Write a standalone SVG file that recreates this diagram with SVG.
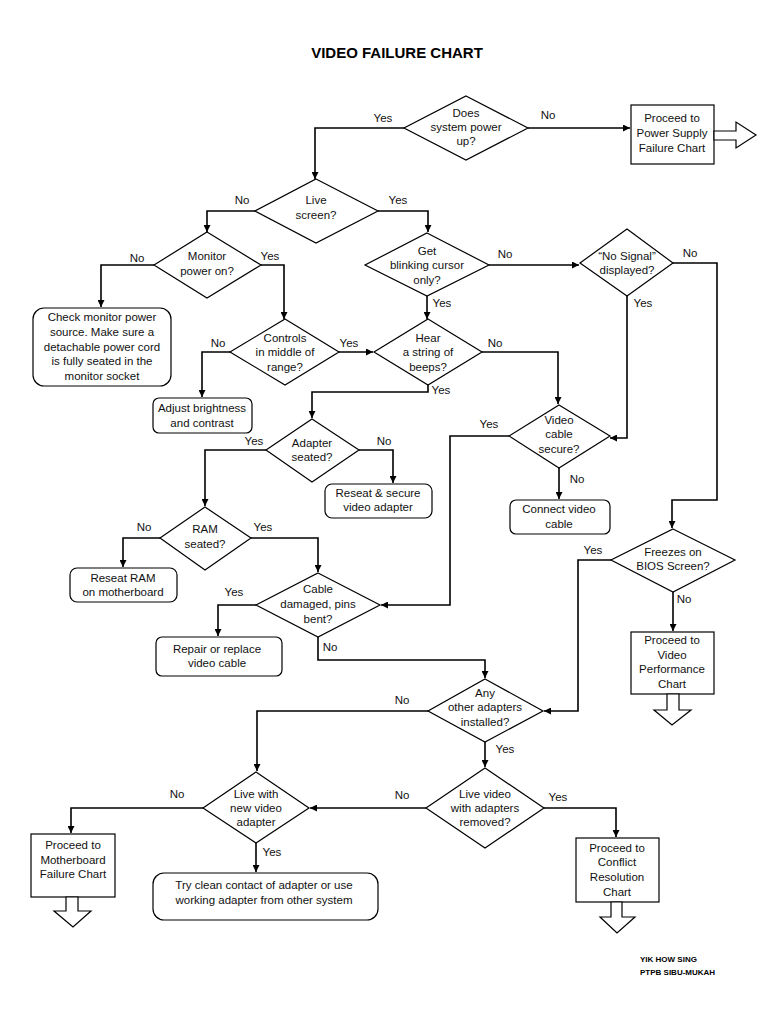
<svg xmlns="http://www.w3.org/2000/svg" width="768" height="1024" viewBox="0 0 768 1024">
<defs>
<marker id="ah" viewBox="0 0 10 10" refX="10" refY="5" markerWidth="7" markerHeight="7" orient="auto" markerUnits="userSpaceOnUse"><path d="M0,0 L10,5 L0,10 z" fill="#000"/></marker>
<style>
.d,.b,.r{fill:#fff;stroke:#000;stroke-width:1.2}
.t{font-family:"Liberation Sans",Arial,sans-serif;font-size:11.5px;text-anchor:middle;fill:#111}
.l{font-family:"Liberation Sans",Arial,sans-serif;font-size:11.5px;text-anchor:middle;fill:#111}
.c{fill:none;stroke:#000;stroke-width:1.6;marker-end:url(#ah)}
.bar{fill:#fff;stroke:#000;stroke-width:1.2}
</style>
</defs>
<rect width="768" height="1024" fill="#fff"/>
<text x="397" y="58" font-family="Liberation Sans,Arial,sans-serif" font-size="15" font-weight="bold" text-anchor="middle">VIDEO FAILURE CHART</text>

<g id="connectors">
<polyline class="c" points="404,128 315,128 315,179"/>
<polyline class="c" points="528,128 630,128"/>
<polyline class="c" points="255,211 207,211 207,232"/>
<polyline class="c" points="378,211 428,211 428,232"/>
<polyline class="c" points="154,265 101,265 101,307"/>
<polyline class="c" points="261,265 284,265 284,319"/>
<polyline class="c" points="230,352 202,352 202,397"/>
<polyline class="c" points="339,352 373,352"/>
<polyline class="c" points="489,265 579,265"/>
<polyline class="c" points="427,296 427,319"/>
<polyline class="c" points="673,263 717,263 717,500 672,500 672,528"/>
<polyline class="c" points="627,296 627,438 610,438"/>
<polyline class="c" points="482,352 558,352 558,404"/>
<polyline class="c" points="428,385 428,392 312,392 312,418"/>
<polyline class="c" points="266,450 205,450 205,506"/>
<polyline class="c" points="359,450 393,450 393,483"/>
<polyline class="c" points="509,436 450,436 450,605 381,605"/>
<polyline class="c" points="559,468 559,499"/>
<polyline class="c" points="160,538 123,538 123,567"/>
<polyline class="c" points="251,538 318,538 318,572"/>
<polyline class="c" points="256,605 218,605 218,636"/>
<polyline class="c" points="318,637 318,660 485,660 485,678"/>
<polyline class="c" points="611,560 578,560 578,711 544,711"/>
<polyline class="c" points="673,592 673,631"/>
<polyline class="c" points="428,711 257,711 257,771"/>
<polyline class="c" points="485,742 485,767"/>
<polyline class="c" points="426,808 310,808"/>
<polyline class="c" points="544,808 616,808 616,837"/>
<polyline class="c" points="203,808 71,808 71,833"/>
<polyline class="c" points="256,843 256,872"/>
</g>

<g id="labels">
<text class="l" x="383" y="122">Yes</text>
<text class="l" x="548" y="119">No</text>
<text class="l" x="242" y="204">No</text>
<text class="l" x="398" y="204">Yes</text>
<text class="l" x="137" y="262">No</text>
<text class="l" x="270" y="260">Yes</text>
<text class="l" x="218" y="347">No</text>
<text class="l" x="349" y="347">Yes</text>
<text class="l" x="505" y="258">No</text>
<text class="l" x="442" y="307">Yes</text>
<text class="l" x="690" y="257">No</text>
<text class="l" x="643" y="307">Yes</text>
<text class="l" x="495" y="347">No</text>
<text class="l" x="441" y="394">Yes</text>
<text class="l" x="254" y="445">Yes</text>
<text class="l" x="384" y="445">No</text>
<text class="l" x="489" y="428">Yes</text>
<text class="l" x="577" y="483">No</text>
<text class="l" x="144" y="531">No</text>
<text class="l" x="263" y="531">Yes</text>
<text class="l" x="234" y="596">Yes</text>
<text class="l" x="330" y="651">No</text>
<text class="l" x="593" y="554">Yes</text>
<text class="l" x="684" y="603">No</text>
<text class="l" x="402" y="704">No</text>
<text class="l" x="505" y="753">Yes</text>
<text class="l" x="402" y="799">No</text>
<text class="l" x="558" y="801">Yes</text>
<text class="l" x="177" y="798">No</text>
<text class="l" x="272" y="856">Yes</text>
</g>

<g id="n1"><polygon class="d" points="466,96 528,128 466,160 404,128"/>
<text class="t" x="466" y="117">Does</text><text class="t" x="466" y="131">system power</text><text class="t" x="466" y="145">up?</text></g>

<g id="n2"><rect class="b" x="631" y="105" width="83" height="59"/>
<polygon class="bar" points="714,131 736,131 736,122 756,135 736,148 736,140 714,140"/>
<text class="t" x="672" y="122">Proceed to</text><text class="t" x="672" y="137">Power Supply</text><text class="t" x="672" y="152">Failure Chart</text></g>

<g id="n3"><polygon class="d" points="316,179 378,211 316,243 255,211"/>
<text class="t" x="316" y="204">Live</text><text class="t" x="316" y="219">screen?</text></g>

<g id="n4"><polygon class="d" points="207,232 261,265 207,298 154,265"/>
<text class="t" x="207" y="260">Monitor</text><text class="t" x="207" y="275">power on?</text></g>

<g id="n5"><rect class="r" x="33" y="308" width="138" height="78" rx="11"/>
<text class="t" x="102" y="321">Check monitor power</text><text class="t" x="102" y="336">source. Make sure a</text><text class="t" x="102" y="351">detachable power cord</text><text class="t" x="102" y="365">is fully seated in the</text><text class="t" x="102" y="380">monitor socket</text></g>

<g id="n6"><polygon class="d" points="285,319 339,352 285,385 230,352"/>
<text class="t" x="285" y="342">Controls</text><text class="t" x="285" y="356">in middle of</text><text class="t" x="285" y="371">range?</text></g>

<g id="n7"><rect class="r" x="153" y="398" width="99" height="35" rx="6"/>
<text class="t" x="202" y="412">Adjust brightness</text><text class="t" x="202" y="427">and contrast</text></g>

<g id="n8"><polygon class="d" points="427,233 489,265 427,296 365,265"/>
<text class="t" x="427" y="255">Get</text><text class="t" x="427" y="269">blinking cursor</text><text class="t" x="427" y="284">only?</text></g>

<g id="n9"><polygon class="d" points="627,229 673,263 627,296 580,263"/>
<text class="t" x="627" y="260">“No Signal”</text><text class="t" x="627" y="274">displayed?</text></g>

<g id="n10"><polygon class="d" points="428,319 482,352 428,385 374,352"/>
<text class="t" x="428" y="342">Hear</text><text class="t" x="428" y="356">a string of</text><text class="t" x="428" y="371">beeps?</text></g>

<g id="n11"><polygon class="d" points="312,419 359,450 312,482 266,450"/>
<text class="t" x="312" y="447">Adapter</text><text class="t" x="312" y="461">seated?</text></g>

<g id="n12"><rect class="r" x="325" y="484" width="107" height="34" rx="7"/>
<text class="t" x="378" y="497">Reseat &amp; secure</text><text class="t" x="378" y="511">video adapter</text></g>

<g id="n13"><polygon class="d" points="559,405 610,436 559,468 509,436"/>
<text class="t" x="559" y="424">Video</text><text class="t" x="559" y="438">cable</text><text class="t" x="559" y="453">secure?</text></g>

<g id="n14"><rect class="r" x="510" y="500" width="100" height="34" rx="6"/>
<text class="t" x="559" y="513">Connect video</text><text class="t" x="559" y="528">cable</text></g>

<g id="n15"><polygon class="d" points="205,507 251,538 205,570 160,538"/>
<text class="t" x="205" y="533">RAM</text><text class="t" x="205" y="548">seated?</text></g>

<g id="n16"><rect class="r" x="70" y="568" width="107" height="34" rx="7"/>
<text class="t" x="123" y="582">Reseat RAM</text><text class="t" x="123" y="596">on motherboard</text></g>

<g id="n17"><polygon class="d" points="318,573 380,605 318,637 256,605"/>
<text class="t" x="318" y="593">Cable</text><text class="t" x="318" y="608">damaged, pins</text><text class="t" x="318" y="623">bent?</text></g>

<g id="n18"><rect class="r" x="156" y="637" width="126" height="39" rx="6"/>
<text class="t" x="217" y="653">Repair or replace</text><text class="t" x="217" y="667">video cable</text></g>

<g id="n19"><polygon class="d" points="673,529 735,560 673,592 611,560"/>
<text class="t" x="673" y="556">Freezes on</text><text class="t" x="673" y="570">BIOS Screen?</text></g>

<g id="n20"><rect class="b" x="631" y="632" width="83" height="62"/>
<polygon class="bar" points="667,694 667,710 654,710 672,725 691,710 679,710 679,694"/>
<text class="t" x="672" y="644">Proceed to</text><text class="t" x="672" y="659">Video</text><text class="t" x="672" y="673">Performance</text><text class="t" x="672" y="688">Chart</text></g>

<g id="n21"><polygon class="d" points="485,679 543,711 485,742 428,711"/>
<text class="t" x="485" y="697">Any</text><text class="t" x="485" y="711">other adapters</text><text class="t" x="485" y="726">installed?</text></g>

<g id="n22"><polygon class="d" points="485,768 544,808 485,848 426,808"/>
<text class="t" x="485" y="798">Live video</text><text class="t" x="485" y="812">with adapters</text><text class="t" x="485" y="826">removed?</text></g>

<g id="n23"><rect class="b" x="576" y="838" width="83" height="64"/>
<polygon class="bar" points="611,902 611,917 600,917 617,933 635,917 622,917 622,902"/>
<text class="t" x="617" y="852">Proceed to</text><text class="t" x="617" y="866">Conflict</text><text class="t" x="617" y="881">Resolution</text><text class="t" x="617" y="896">Chart</text></g>

<g id="n24"><polygon class="d" points="256,772 309,808 256,843 203,808"/>
<text class="t" x="256" y="798">Live with</text><text class="t" x="256" y="812">new video</text><text class="t" x="256" y="826">adapter</text></g>

<g id="n25"><rect class="b" x="31" y="834" width="84" height="63"/>
<polygon class="bar" points="66,897 66,911 54,911 73,927 91,911 78,911 78,897"/>
<text class="t" x="73" y="849">Proceed to</text><text class="t" x="73" y="864">Motherboard</text><text class="t" x="73" y="878">Failure Chart</text></g>

<g id="n26"><rect class="r" x="153" y="873" width="225" height="47" rx="11"/>
<text class="t" x="264" y="889">Try clean contact of adapter or use</text><text class="t" x="264" y="904">working adapter from  other system</text></g>

<g id="credit">
<text x="640" y="962" font-family="Liberation Sans,Arial,sans-serif" font-size="8" font-weight="bold">YIK HOW SING</text>
<text x="640" y="975" font-family="Liberation Sans,Arial,sans-serif" font-size="8" font-weight="bold">PTPB SIBU-MUKAH</text>
</g>
</svg>
